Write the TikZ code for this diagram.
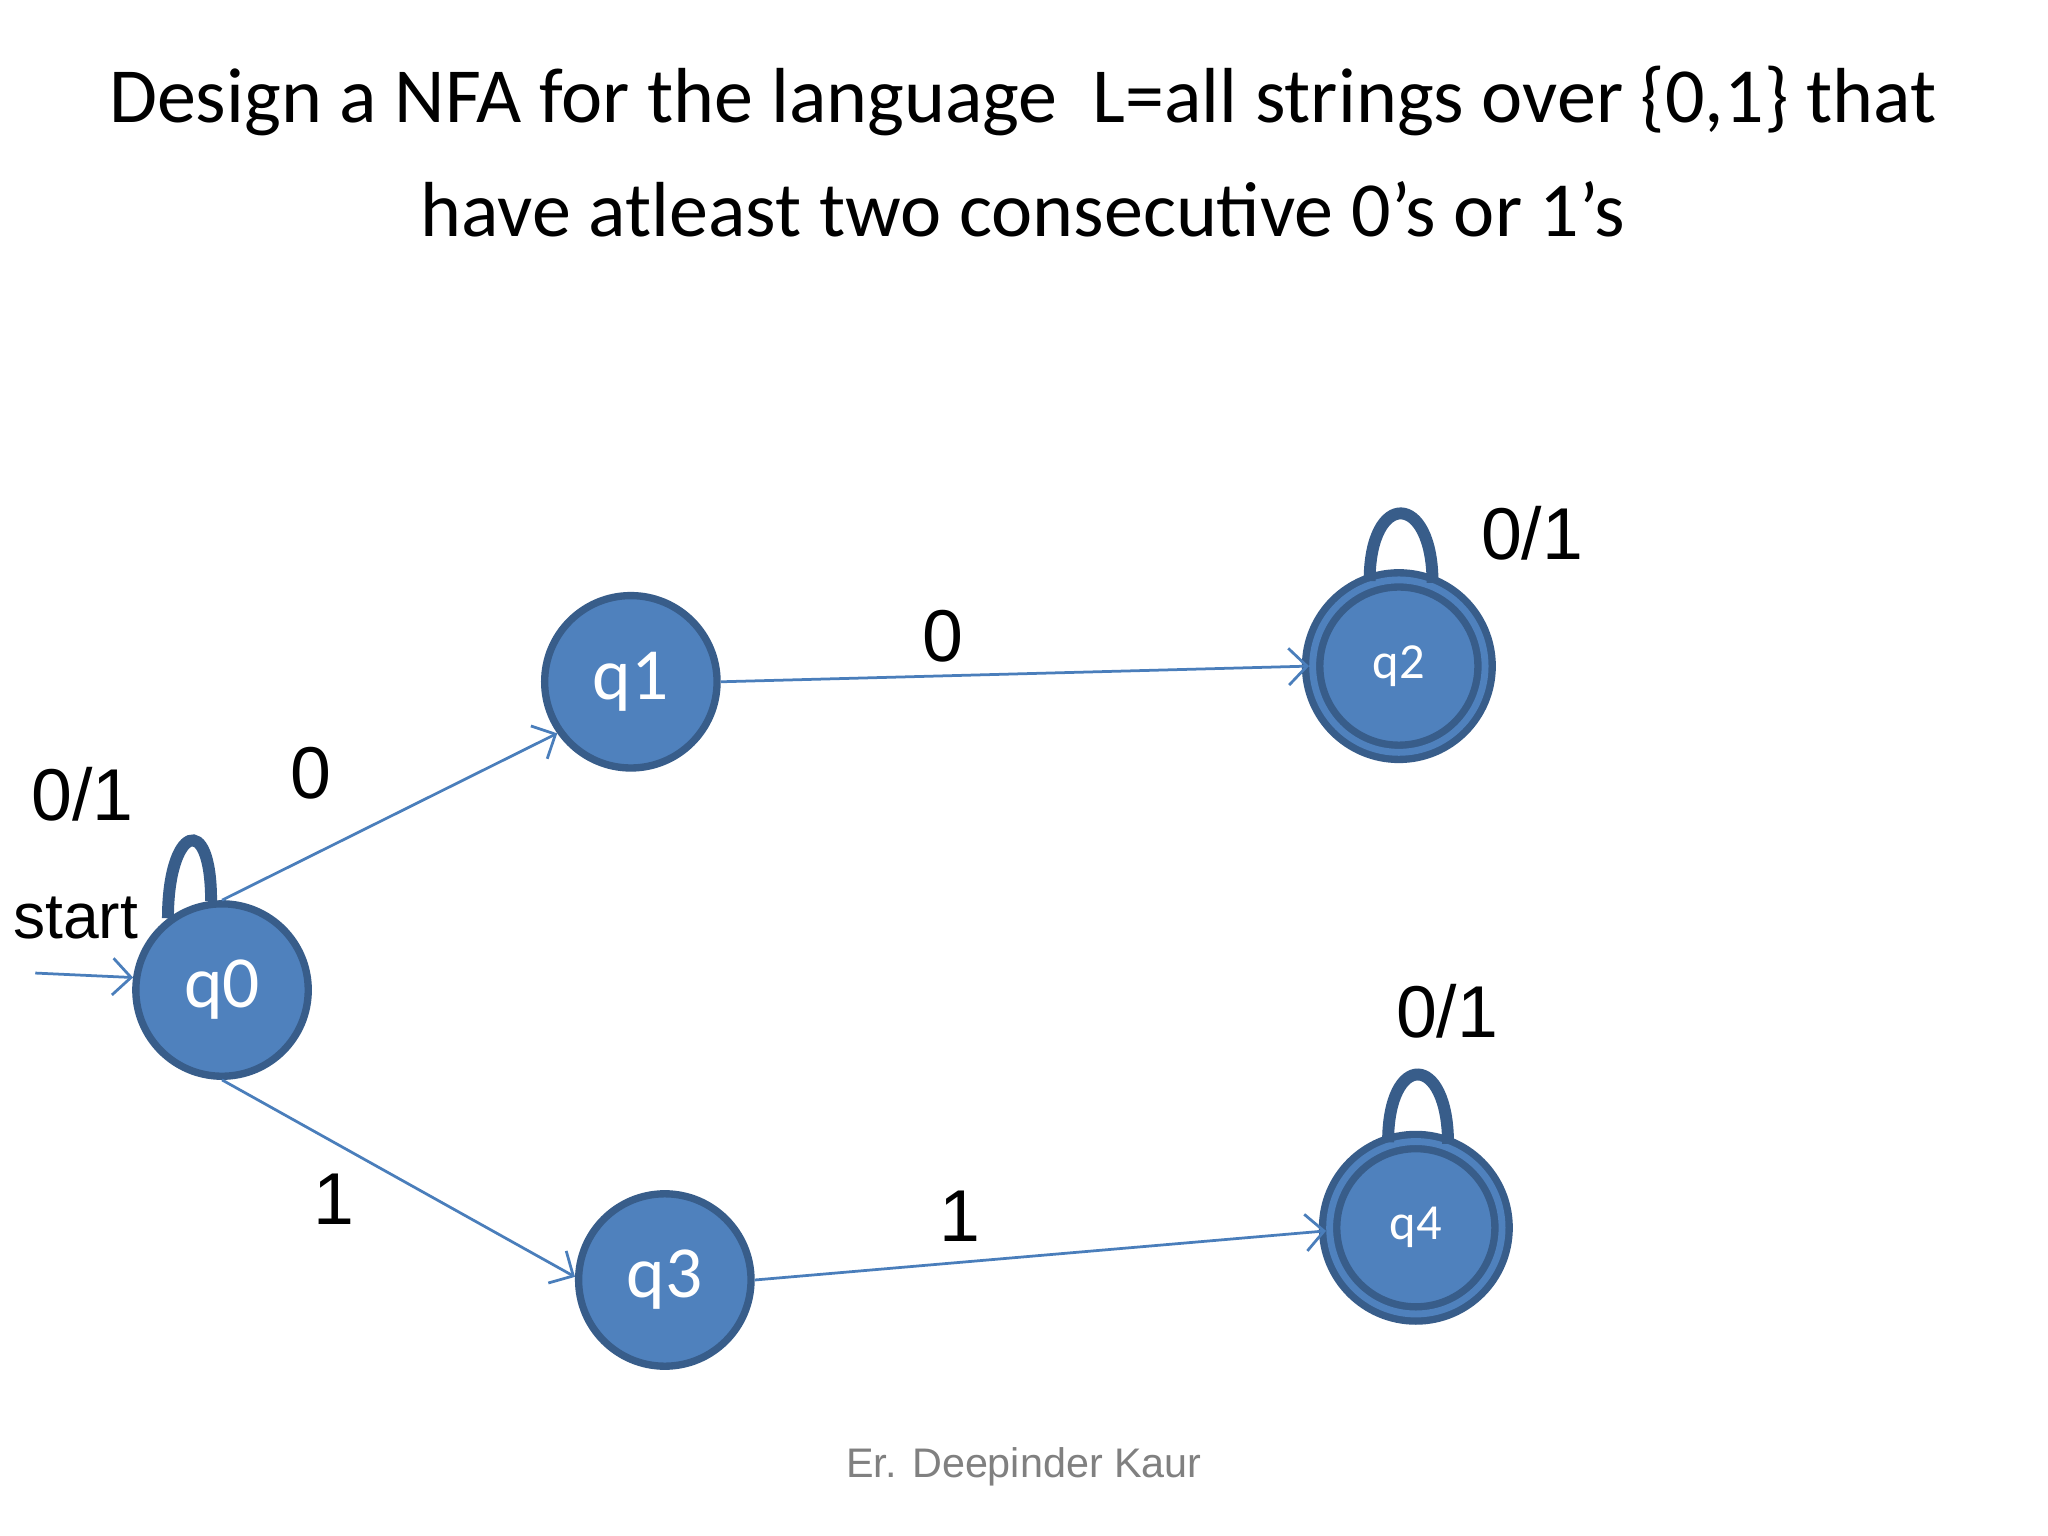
\documentclass[tikz,border=0pt]{standalone}
\usepackage{fontspec}
\setmainfont{Carlito}
\newfontfamily\arialfont{Liberation Sans}
\definecolor{statefill}{HTML}{4F81BD}
\definecolor{statedraw}{HTML}{385D8A}
\definecolor{edgeblue}{HTML}{4A7EBB}
\tikzset{
    state/.style={circle, fill=statefill, draw=statedraw, line width=1.6pt, minimum size=1.32cm, inner sep=0pt, text=white, font=\fontsize{16}{18}\selectfont},
    accept/.style={state, double=statefill, double distance=1.5pt, draw=statedraw, font=\fontsize{11}{13}\selectfont},
    edge/.style={draw=edgeblue, line width=0.6pt, -{Straight Barb[length=4pt,width=8pt]}},
    loopline/.style={draw=statedraw, line width=2.6pt},
    lbl/.style={font=\arialfont\fontsize{16}{18}\selectfont}
}
\usetikzlibrary{arrows.meta}
\begin{document}
\begin{tikzpicture}
    \useasboundingbox[fill=white] (0,0) rectangle (15.68,-11.76);
    % title
    \node[font=\fontsize{17}{25}\selectfont, align=center] (title) at (7.83,-1.16)
        {Design a NFA for the language \ L=all strings over \{0,1\} that\\have atleast two consecutive 0’s or 1’s};
    % states
    \node[state] (q0) at (1.70,-7.58) {q0};
    \node[state] (q1) at (4.83,-5.22) {q1};
    \node[accept] (q2) at (10.71,-5.10) {q2};
    \node[state] (q3) at (5.09,-9.80) {q3};
    \node[accept] (q4) at (10.84,-9.40) {q4};
    \coordinate (init) at (0.27,-7.45);
    % transitions
    \draw[edge] (init) -- (q0.172);
    \draw[edge] (q0.north) -- (q1.215);
    \draw[edge] (q1.east) -- (q2.west);
    \draw[edge] (q0.south) -- (q3.178);
    \draw[edge] (q3.east) -- (q4.182);
    % self loops
    \draw[loopline] (q0.127) .. controls +(0,0.7) and +(0,0.7) .. (q0.97);
    \draw[loopline] (q2.109) .. controls +(0,0.7) and +(0,0.7) .. (q2.68);
    \draw[loopline] (q4.108) .. controls +(0,0.7) and +(0,0.7) .. (q4.69);
    % labels
    \node[lbl] (l00) at (0.63,-6.08) {0/1};
    \node[lbl] (l01) at (2.38,-5.92) {0};
    \node[lbl, font=\arialfont\fontsize{14}{16}\selectfont] (lstart) at (0.58,-7.03) {start};
    \node[lbl] (l12) at (7.22,-4.87) {0};
    \node[lbl] (l22) at (11.73,-4.08) {0/1};
    \node[lbl] (l44) at (11.08,-7.74) {0/1};
    \node[lbl] (l03) at (2.56,-9.18) {1};
    \node[lbl] (l34) at (7.35,-9.31) {1};
    \node[font=\arialfont\fontsize{9}{11}\selectfont, text=gray] (author) at (7.84,-11.23) {Er. Deepinder Kaur};
\end{tikzpicture}
\end{document}
